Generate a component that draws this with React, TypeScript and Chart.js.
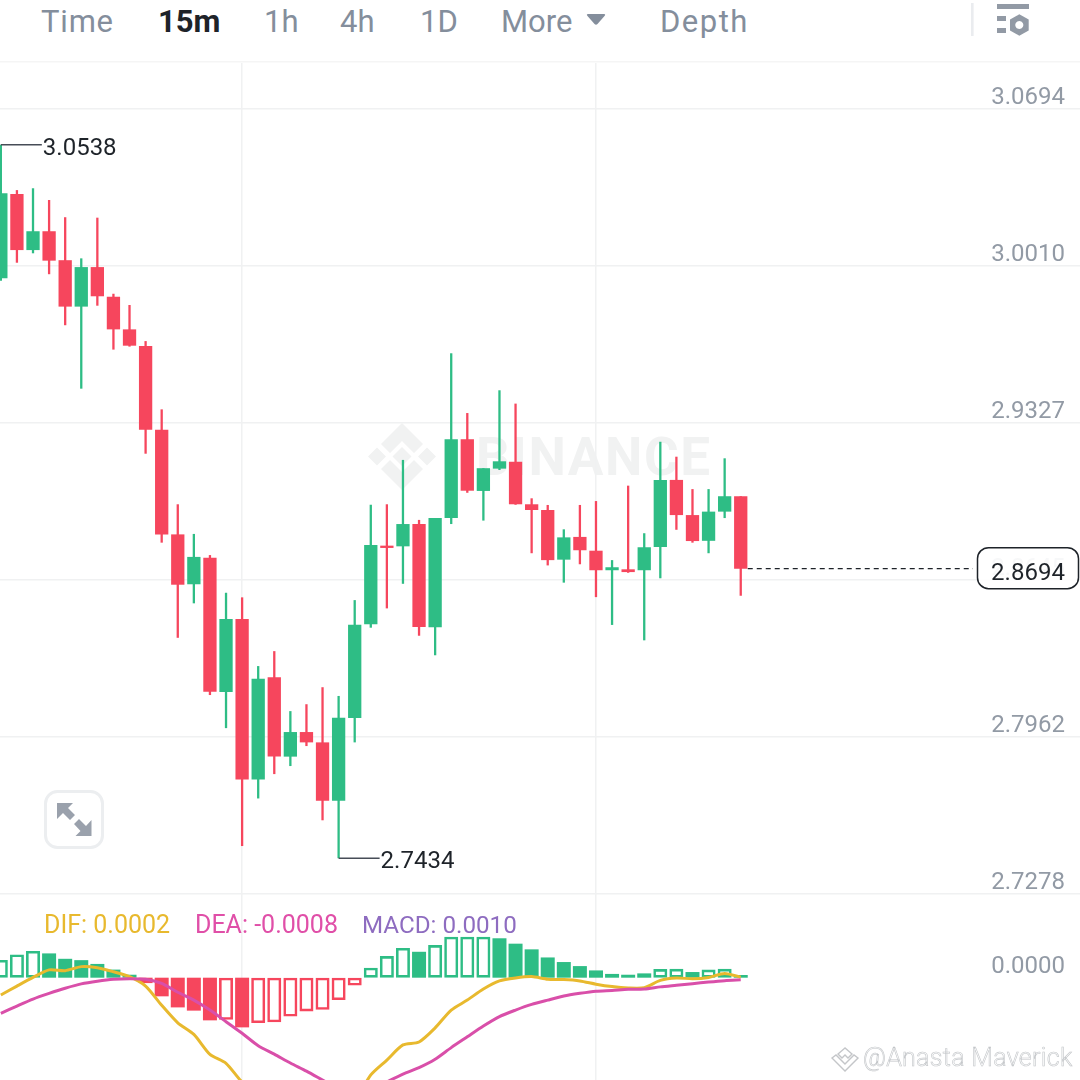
import React, { useEffect, useRef } from "react";
import { Chart, registerables } from "chart.js";

Chart.register(...registerables);

const FONT = "Roboto, 'Noto Sans', sans-serif";
const UP = "#2ebd85";
const DOWN = "#f6465d";

// Candles, oldest first
const opens = [2.9957,3.0324,3.0080,3.0162,3.0036,2.9834,3.0006,2.9877,2.9735,2.9663,2.9298,2.8843,2.8626,2.8741,2.8157,2.8475,2.7777,2.8221,2.7876,2.7983,2.7938,2.7684,2.8044,2.8452,2.8794,2.8791,2.8888,2.8439,2.8914,2.9257,2.9032,2.9129,2.9159,2.8974,2.8949,2.8733,2.8832,2.8772,2.8687,2.8691,2.8687,2.8788,2.9080,2.8927,2.8815,2.8942,2.9009];
const closes = [3.0327,3.0080,3.0162,3.0034,2.9834,3.0006,2.9879,2.9735,2.9664,2.9298,2.8843,2.8624,2.8745,2.8158,2.8475,2.7777,2.8215,2.7877,2.7983,2.7938,2.7684,2.8045,2.8450,2.8797,2.8784,2.8888,2.8440,2.8914,2.9257,2.9033,2.9131,2.9161,2.8974,2.8949,2.8731,2.8830,2.8774,2.8687,2.8700,2.8679,2.8787,2.9080,2.8927,2.8814,2.8942,2.9009,2.8694];
const highs = [3.0538,3.0341,3.0349,3.0298,3.0223,3.0044,3.0221,2.9890,2.9841,2.9684,2.9387,2.8974,2.8845,2.8753,2.8589,2.8569,2.8270,2.8335,2.8074,2.8104,2.8178,2.8140,2.8557,2.8972,2.8974,2.9167,2.8906,2.8914,2.9631,2.9371,2.9131,2.9470,2.9412,2.9000,2.8971,2.8865,2.8971,2.8988,2.8731,2.9055,2.8848,2.9246,2.9181,2.9040,2.9040,2.9174,2.9009];
const lows = [2.9947,3.0025,3.0066,2.9975,2.9753,2.9477,2.9838,2.9647,2.9660,2.9194,2.8807,2.8393,2.8543,2.8144,2.8000,2.7487,2.7694,2.7800,2.7835,2.7922,2.7599,2.7434,2.7938,2.8437,2.8521,2.8628,2.8402,2.8317,2.8888,2.9024,2.8903,2.9123,2.8972,2.8761,2.8708,2.8633,2.8713,2.8570,2.8449,2.8676,2.8382,2.8652,2.8863,2.8807,2.8761,2.8914,2.8576];

// MACD panel
const macdHist = [0.0066,0.0086,0.0099,0.0090,0.0070,0.0065,0.0051,0.0030,0.0011,-0.0020,-0.0069,-0.0110,-0.0122,-0.0158,-0.0156,-0.0184,-0.0168,-0.0165,-0.0144,-0.0125,-0.0119,-0.0083,-0.0029,0.0037,0.0080,0.0110,0.0096,0.0121,0.0152,0.0152,0.0152,0.0146,0.0126,0.0105,0.0075,0.0058,0.0043,0.0027,0.0014,0.0011,0.0016,0.0032,0.0033,0.0021,0.0030,0.0033,0.0010];
const macdHollow = [1,1,1,0,0,0,0,0,0,0,0,0,0,0,1,0,1,1,1,1,1,1,1,1,1,1,0,1,1,1,1,0,0,0,0,0,0,0,0,0,0,1,1,0,1,1,0];
const dif = [-0.0064,-0.0031,0.0001,0.0029,0.0026,0.0041,0.0037,0.0022,0.0004,-0.0031,-0.0102,-0.0167,-0.0210,-0.0284,-0.0317,-0.0386,-0.0420,-0.0449,-0.0460,-0.0471,-0.0498,-0.0495,-0.0456,-0.0360,-0.0305,-0.0249,-0.0238,-0.0186,-0.0120,-0.0083,-0.0042,-0.0012,-0.0001,0.0004,-0.0006,-0.0007,-0.0012,-0.0024,-0.0033,-0.0038,-0.0037,-0.0010,-0.0001,-0.0004,0.0001,0.0016,0.0002];
const dea = [-0.0132,-0.0105,-0.0079,-0.0058,-0.0039,-0.0023,-0.0013,-0.0006,-0.0004,-0.0006,-0.0021,-0.0054,-0.0083,-0.0120,-0.0163,-0.0206,-0.0252,-0.0283,-0.0316,-0.0346,-0.0379,-0.0412,-0.0427,-0.0416,-0.0386,-0.0357,-0.0333,-0.0302,-0.0259,-0.0219,-0.0179,-0.0144,-0.0120,-0.0099,-0.0083,-0.0068,-0.0058,-0.0050,-0.0047,-0.0043,-0.0042,-0.0034,-0.0028,-0.0022,-0.0016,-0.0011,-0.0008];

const priceTicks = [3.0694, 3.0010, 2.9327, 2.8645, 2.7962, 2.7278];
const macdTicks = [0];
const timeGridIndexes = [15, 37];
const tabs = ["Time", "15m", "1h", "4h", "1D", "More", "Depth"];
const legendDif = "DIF: 0.0002";
const legendDea = "DEA: -0.0008";
const legendMacd = "MACD: 0.0010";

const tabLefts = [41, 158, 264, 340, 420, 501, 660];
const tabSpacing = [0.8, 0, 0, 0, 0, 0, 1.5];
const CANVAS_TOP = 63;

const candleIsUp = opens.map((o, i) => closes[i] >= o);
const candleColors = candleIsUp.map((u) => (u ? UP : DOWN));

const annotations = {
  id: "annotations",
  afterDatasetsDraw(chart: any) {
    const { ctx, scales } = chart;
    const x = scales.x;
    const y = scales.price;
    const hi = Math.max(...highs);
    const lo = Math.min(...lows);
    const last = closes[closes.length - 1];
    ctx.save();
    ctx.font = `24px ${FONT}`;
    ctx.textBaseline = "middle";
    ctx.textAlign = "left";
    const mark = (i: number, v: number) => {
      const px = x.getPixelForValue(i);
      const py = y.getPixelForValue(v);
      ctx.strokeStyle = "#474d57";
      ctx.lineWidth = 1.5;
      ctx.beginPath();
      ctx.moveTo(px, py);
      ctx.lineTo(px + 41, py);
      ctx.stroke();
      ctx.fillStyle = "#1e2329";
      ctx.fillText(v.toFixed(4), px + 42, py + 4);
    };
    mark(highs.indexOf(hi), hi);
    mark(lows.indexOf(lo), lo);

    const lastY = y.getPixelForValue(last);
    const lastX = x.getPixelForValue(closes.length - 1);
    ctx.strokeStyle = "#1e2329";
    ctx.lineWidth = 1.3;
    ctx.setLineDash([5, 4]);
    ctx.beginPath();
    ctx.moveTo(lastX + 7, lastY);
    ctx.lineTo(973, lastY);
    ctx.stroke();
    ctx.setLineDash([]);

    const bx = 977.5, bw = 101, bh = 41;
    const by = lastY - 21;
    ctx.beginPath();
    ctx.roundRect(bx, by, bw, bh, 11);
    ctx.fillStyle = "rgba(255,255,255,0.93)";
    ctx.fill();
    ctx.strokeStyle = "#1e2329";
    ctx.lineWidth = 1.5;
    ctx.stroke();
    ctx.fillStyle = "#1e2329";
    ctx.textAlign = "center";
    ctx.fillText(last.toFixed(4), bx + bw / 2, lastY + 5);
    ctx.restore();
  },
};

const zeroWidth = (s: any) => {
  s.width = 0;
};

export default function App() {
  const ref = useRef<HTMLCanvasElement | null>(null);

  useEffect(() => {
    if (!ref.current) return;
    const idx = opens.map((_, i) => i);
    const chart = new Chart(ref.current, {
      type: "bar",
      data: {
        datasets: [
          {
            type: "bar",
            label: "Wick",
            data: idx.map((i) => ({ x: i, y: [lows[i], highs[i]] })),
            yAxisID: "price",
            backgroundColor: candleColors,
            maxBarThickness: 2.3,
            order: 5,
          },
          {
            type: "bar",
            label: "Candle",
            data: idx.map((i) => ({ x: i, y: [opens[i], closes[i]] })),
            yAxisID: "price",
            backgroundColor: candleColors,
            maxBarThickness: 13.3,
            order: 4,
          },
          {
            type: "bar",
            label: "MACD",
            data: idx.map((i) => ({ x: i, y: macdHist[i] })),
            yAxisID: "macd",
            backgroundColor: idx.map((i) =>
              macdHollow[i] ? "rgba(255,255,255,0)" : macdHist[i] >= 0 ? UP : DOWN
            ),
            borderColor: idx.map((i) => (macdHist[i] >= 0 ? UP : DOWN)),
            borderWidth: idx.map((i) => (macdHollow[i] ? 2.6 : 0)),
            borderSkipped: false,
            maxBarThickness: 14,
            order: 3,
          },
          {
            type: "line",
            label: "DIF",
            data: idx.map((i) => ({ x: i, y: dif[i] })),
            yAxisID: "macd",
            borderColor: "#e8b92e",
            borderWidth: 3,
            pointRadius: 0,
            tension: 0.25,
            order: 2,
          },
          {
            type: "line",
            label: "DEA",
            data: idx.map((i) => ({ x: i, y: dea[i] })),
            yAxisID: "macd",
            borderColor: "#d94fa9",
            borderWidth: 3,
            pointRadius: 0,
            tension: 0.25,
            order: 1,
          },
        ],
      } as any,
      options: {
        responsive: false,
        animation: false,
        events: [],
        layout: { padding: 0 },
        datasets: { bar: { grouped: false, barPercentage: 1, categoryPercentage: 1, inflateAmount: 0 } },
        plugins: { legend: { display: false }, tooltip: { enabled: false }, title: { display: false } },
        scales: {
          x: {
            type: "linear",
            offset: false,
            min: -0.0522,
            max: 67.092,
            border: { display: false },
            grid: { color: "#f0f1f2", lineWidth: 1.5, drawTicks: false, offset: false },
            ticks: { display: false },
            afterBuildTicks: (s: any) => {
              s.ticks = timeGridIndexes.map((value) => ({ value }));
            },
          },
          price: {
            type: "linear",
            position: "right",
            min: 2.6469,
            max: 3.0894,
            border: { display: false },
            grid: { color: "#f0f1f2", lineWidth: 1.5, drawTicks: false },
            afterFit: zeroWidth,
            afterBuildTicks: (s: any) => {
              s.ticks = priceTicks.map((value) => ({ value }));
            },
            ticks: {
              mirror: true,
              padding: -15,
              labelOffset: -11,
              autoSkip: false,
              color: "#929aa5",
              font: { family: FONT, size: 24 },
              callback: (v: any) => Number(v).toFixed(4),
            },
          },
          macd: {
            type: "linear",
            position: "right",
            min: -0.03789,
            max: 0.33878,
            border: { display: false },
            grid: { display: false, drawTicks: false },
            afterFit: zeroWidth,
            afterBuildTicks: (s: any) => {
              s.ticks = macdTicks.map((value) => ({ value }));
            },
            ticks: {
              mirror: true,
              padding: -15,
              labelOffset: -11,
              autoSkip: false,
              color: "#929aa5",
              font: { family: FONT, size: 24 },
              callback: (v: any) => Number(v).toFixed(4),
            },
          },
        },
      } as any,
      plugins: [annotations],
    });
    return () => chart.destroy();
  }, []);

  const legendStyle: React.CSSProperties = {
    position: "absolute",
    top: 910,
    fontFamily: FONT,
    lineHeight: "30px",
    whiteSpace: "nowrap",
  };

  return (
    <div style={{ position: "absolute", left: 0, top: 0, width: 1080, height: 1080, overflow: "hidden", background: "#fff" }}>
      {/* background watermark */}
      <svg width={1080} height={1080} style={{ position: "absolute", left: 0, top: 0 }}>
        <g fill="#f1f2f2">
          <polygon points="402,423 423,444 414,453 402,441 390,453 381,444" />
          <polygon points="402,490 381,469 390,460 402,472 414,460 423,469" />
          <polygon points="368,456.5 377,447.5 386,456.5 377,465.5" />
          <polygon points="418,456.5 427,447.5 436,456.5 427,465.5" />
          <polygon points="402,447 411.5,456.5 402,466 392.5,456.5" />
        </g>
        <text x={476} y={475} fill="#f1f2f2" fontFamily={FONT} fontWeight={700} fontSize={53} textLength={234}>
          BINANCE
        </text>
      </svg>

      {/* header */}
      {tabs.map((t, i) => (
        <span
          key={t}
          style={{
            position: "absolute",
            left: tabLefts[i],
            top: 3,
            fontFamily: FONT,
            fontSize: 31,
            lineHeight: "38px",
            letterSpacing: tabSpacing[i],
            fontWeight: t === "15m" ? 700 : 400,
            color: t === "15m" ? "#1e2329" : "#848e9c",
            whiteSpace: "nowrap",
          }}
        >
          {t}
        </span>
      ))}
      <svg width={1080} height={64} style={{ position: "absolute", left: 0, top: 0 }}>
        <path d="M588 14 H604 Q606 14 604.5 16 L597.5 24 Q596 25.5 594.5 24 L587.5 16 Q586 14 588 14 Z" fill="#848e9c" />
        <rect x={971} y={3} width={2.6} height={33} fill="#eaecef" />
        <g fill="#929aa5">
          <rect x={997} y={4} width={32} height={5} />
          <rect x={997} y={16} width={9} height={5} />
          <rect x={997} y={28} width={9} height={5} />
          <path fillRule="evenodd" d="M1019.3 14.3 L1028.7 19.6 V30.4 L1019.3 35.7 L1010 30.4 V19.6 Z M1019.3 21 a4 4 0 1 0 0.01 0 Z" />
        </g>
        <rect x={0} y={61} width={1080} height={1.5} fill="#f5f5f5" />
      </svg>

      <canvas
        ref={ref}
        width={1080}
        height={1080 - CANVAS_TOP}
        style={{ position: "absolute", left: 0, top: CANVAS_TOP, display: "block" }}
      />

      {/* legend */}
      <span style={{ ...legendStyle, fontSize: 25, left: 44, color: "#e8b92e" }}>{legendDif}</span>
      <span style={{ ...legendStyle, fontSize: 25, left: 195, color: "#e04fa8" }}>{legendDea}</span>
      <span style={{ ...legendStyle, fontSize: 24.2, left: 362, color: "#8e6cc0" }}>{legendMacd}</span>

      {/* expand button */}
      <svg width={1080} height={1080} style={{ position: "absolute", left: 0, top: 0, pointerEvents: "none" }}>
        <rect x={45.5} y={791.5} width={57} height={56} rx={12} fill="#fff" stroke="#eceef0" strokeWidth={3} />
        <g fill="#9aa1ac">
          <polygon points="57,803 73,803 68,808 75,815 70,820 63,813 57,819" />
          <polygon points="91.5,836 75.5,836 80.5,831 74,824 79,819 86,826 91.5,820" />
        </g>
        <g fill="none" stroke="#c4c6c9" strokeWidth={1.4}>
          <path d="M845 1048 L838 1054 L842 1058 L845 1055 L848 1058 L852 1054 Z" />
          <path d="M832 1058 L845 1071 L858 1058 L854 1055 L845 1064 L836 1055 Z" />
        </g>
      </svg>

      {/* photo credit */}
      <span
        style={{
          position: "absolute",
          left: 863,
          top: 1043,
          fontFamily: FONT,
          fontSize: 25,
          lineHeight: "30px",
          fontWeight: 300,
          letterSpacing: 0.3,
          color: "#ffffff",
          WebkitTextStroke: "0.6px #c2c5c8",
          whiteSpace: "nowrap",
        }}
      >
        @Anasta Maverick
      </span>
    </div>
  );
}
